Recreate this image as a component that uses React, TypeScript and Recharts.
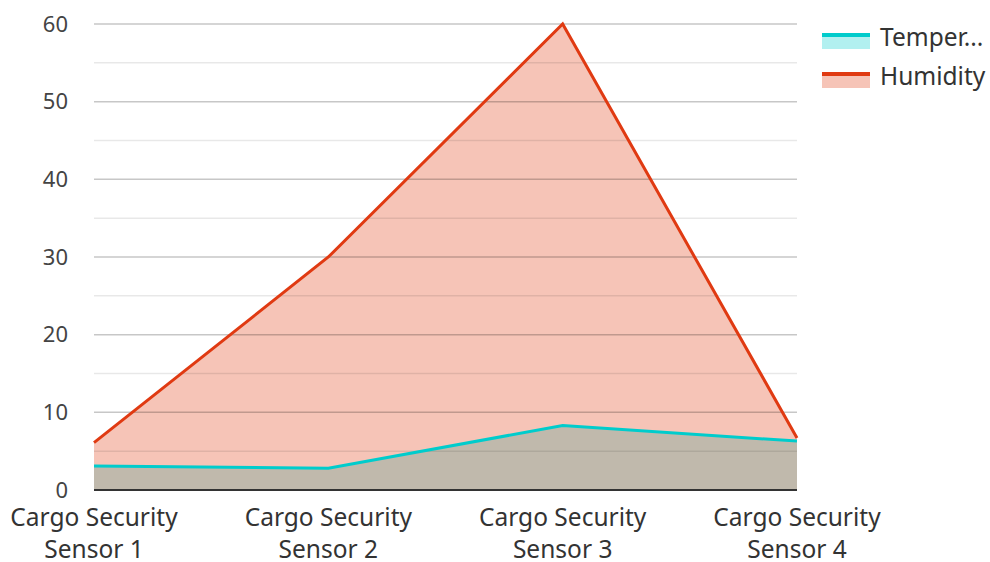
import {
  ComposedChart,
  Area,
  Line,
  XAxis,
  YAxis,
  ReferenceLine,
} from "recharts";

const sensors = [
  "Cargo Security Sensor 1",
  "Cargo Security Sensor 2",
  "Cargo Security Sensor 3",
  "Cargo Security Sensor 4",
];
const temperature = [3.1, 2.8, 8.3, 6.3];
const humidity = [6.1, 30, 60, 6.7];
const yTicks = [0, 10, 20, 30, 40, 50, 60];
const minorLines = [5, 15, 25, 35, 45, 55];
const majorLines = [10, 20, 30, 40, 50, 60];

const TEAL = "#00cccc";
const RED = "#e03a12";
const FONT = "'Noto Sans', 'Open Sans', sans-serif";

const data = sensors.map((name, i) => ({
  name,
  temperature: temperature[i],
  humidity: humidity[i],
}));

const legendItems = [
  { label: "Temper...", color: TEAL },
  { label: "Humidity", color: RED },
];

function SensorTick(props: any) {
  const { x, y, payload } = props;
  const words = String(payload.value).split(" ");
  const first = words.slice(0, 2).join(" ");
  const second = words.slice(2).join(" ");
  return (
    <text
      x={x}
      y={y}
      textAnchor="middle"
      fill="#333"
      fontSize={24.5}
      fontFamily={FONT}
    >
      <tspan x={x} dy={28}>
        {first}
      </tspan>
      <tspan x={x} dy={32}>
        {second}
      </tspan>
    </text>
  );
}

export default function App() {
  return (
    <div style={{ position: "absolute", left: 0, top: 0, width: 990, height: 562 }}>
      <ComposedChart
        width={990}
        height={562}
        data={data}
        margin={{ top: 24, right: 193, bottom: 0, left: 0 }}
      >
        <XAxis
          dataKey="name"
          height={72}
          axisLine={{ stroke: "#333", strokeWidth: 2 }}
          tickLine={false}
          tick={<SensorTick />}
          interval={0}
        />
        <YAxis
          width={94}
          domain={[0, 60]}
          ticks={yTicks}
          axisLine={false}
          tickLine={false}
          tickSize={0}
          tickMargin={26}
          tick={{ fill: "#444", fontSize: 22, fontFamily: FONT }}
        />
        <Area
          type="linear"
          dataKey="temperature"
          fill={TEAL}
          fillOpacity={0.3}
          stroke="none"
          isAnimationActive={false}
        />
        <Area
          type="linear"
          dataKey="humidity"
          fill={RED}
          fillOpacity={0.3}
          stroke="none"
          isAnimationActive={false}
        />
        {minorLines.map((v) => (
          <ReferenceLine key={"m" + v} y={v} stroke="#000" strokeOpacity={0.09} strokeWidth={1.5} />
        ))}
        {majorLines.map((v) => (
          <ReferenceLine key={"M" + v} y={v} stroke="#000" strokeOpacity={0.22} strokeWidth={1.5} />
        ))}
        <Line
          type="linear"
          dataKey="temperature"
          stroke={TEAL}
          strokeWidth={3}
          dot={false}
          activeDot={false}
          isAnimationActive={false}
        />
        <Line
          type="linear"
          dataKey="humidity"
          stroke={RED}
          strokeWidth={3}
          dot={false}
          activeDot={false}
          isAnimationActive={false}
        />
      </ComposedChart>
      <div style={{ position: "absolute", left: 822, top: 17, fontFamily: FONT, fontSize: 24.5, color: "#333" }}>
        {legendItems.map((item) => (
          <div key={item.label} style={{ display: "flex", alignItems: "center", height: 39 }}>
            <div style={{ width: 48, height: 16, marginRight: 10, position: "relative", top: 4 }}>
              <div style={{ height: 4, background: item.color }} />
              <div style={{ height: 12, background: item.color, opacity: 0.3 }} />
            </div>
            <span>{item.label}</span>
          </div>
        ))}
      </div>
    </div>
  );
}
